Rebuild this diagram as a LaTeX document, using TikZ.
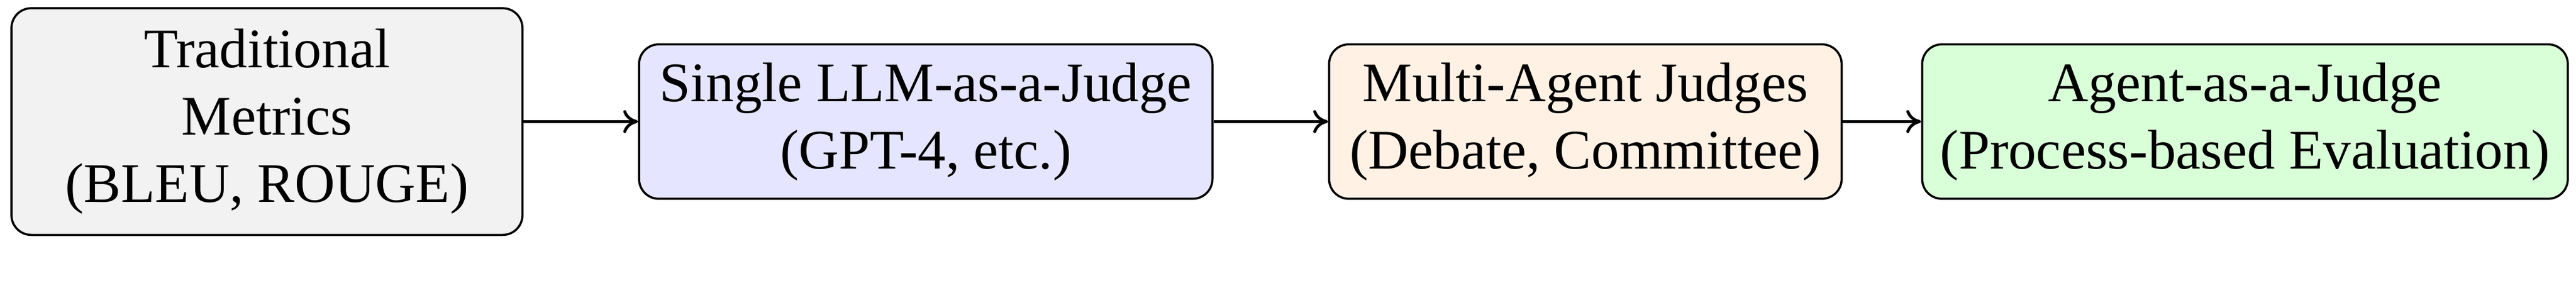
\documentclass[tikz,border=0pt]{standalone}
\usepackage{fontspec}
\setmainfont{Liberation Serif}
\usetikzlibrary{arrows.meta}
\begin{document}
\begin{tikzpicture}[x=1pt,y=1pt,
  stage/.style={draw=black,line width=1.3pt,rounded corners=12pt,align=center,font=\fontsize{34}{41}\selectfont,inner sep=0pt},
  link/.style={line width=1.8pt,-{To[length=9pt,width=14pt]}}]
\useasboundingbox (0,0) rectangle (1568,172);
\node[stage,fill=black!5,minimum width=311pt,minimum height=138pt] (a) at (162.5,98) {Traditional\\Metrics\\(BLEU, ROUGE)};
\node[stage,fill=blue!10,minimum width=349pt,minimum height=94pt] (b) at (563.5,98) {Single LLM-as-a-Judge\\(GPT-4, etc.)};
\node[stage,fill=orange!10,minimum width=312pt,minimum height=94pt] (c) at (965,98) {Multi-Agent Judges\\(Debate, Committee)};
\node[stage,fill=green!15,minimum width=393pt,minimum height=94pt] (d) at (1366.5,98) {Agent-as-a-Judge\\(Process-based Evaluation)};
\draw[link] (a) -- (b);
\draw[link] (b) -- (c);
\draw[link] (c) -- (d);
\end{tikzpicture}
\end{document}
